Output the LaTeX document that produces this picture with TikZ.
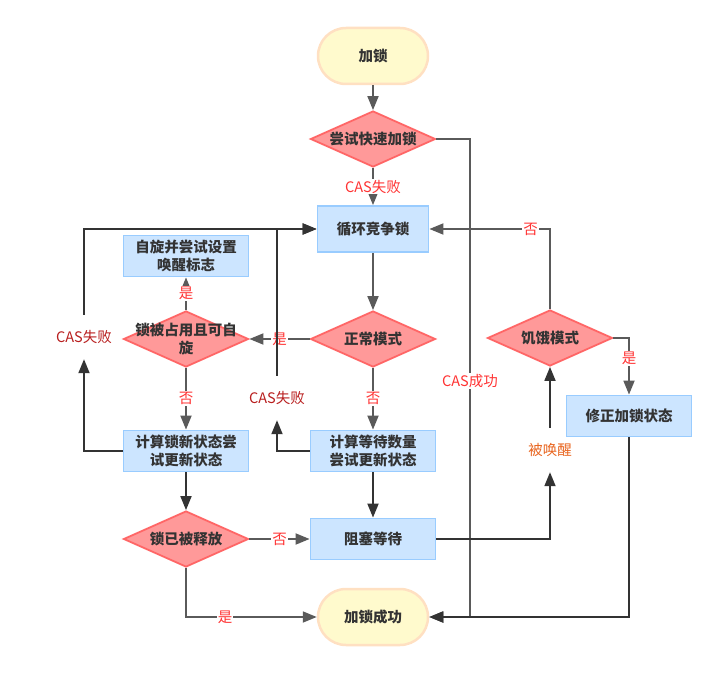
\documentclass[tikz,border=0pt]{standalone}
\usepackage{fontspec}
\setmainfont{Noto Sans CJK SC}
\usetikzlibrary{shapes.geometric,arrows.meta}
\definecolor{boxfill}{HTML}{CCE5FF}
\definecolor{boxline}{HTML}{99CCFF}
\definecolor{decfill}{HTML}{FF9999}
\definecolor{decline}{HTML}{FF6666}
\definecolor{termfill}{HTML}{FFFACD}
\definecolor{termline}{HTML}{FFE0C2}
\definecolor{lgray}{HTML}{5A5A5A}
\definecolor{ldark}{HTML}{333333}
\definecolor{lblred}{HTML}{FF3333}
\definecolor{casred}{HTML}{B81E1E}
\definecolor{wakeorg}{HTML}{E8641E}
\begin{document}
\begin{tikzpicture}[x=1pt,y=-1pt,
  every node/.style={font=\fontsize{14.5}{18}\selectfont,text=ldark},
  term/.style={rectangle,rounded corners=28pt,draw=termline,fill=termfill,line width=2.5pt,
    minimum width=110pt,minimum height=56pt,font=\fontsize{14.5}{18}\selectfont\bfseries},
  proc/.style={rectangle,draw=boxline,fill=boxfill,line width=1.8pt,align=center,
    minimum width=125pt,minimum height=41pt,inner sep=1pt,font=\fontsize{14.5}{18}\selectfont\bfseries},
  decision/.style={diamond,draw=decline,fill=decfill,line width=1.8pt,align=center,aspect=2.2,
    minimum width=125pt,minimum height=56pt,inner sep=0pt,font=\fontsize{14.5}{18}\selectfont\bfseries},
  lbl/.style={fill=white,text=lblred,inner sep=1pt},
  side/.style={text=casred,minimum height=44pt,inner sep=0pt},
  garr/.style={draw=lgray,line width=1.8pt,-{Triangle[length=14pt,width=11pt]}},
  darr/.style={draw=ldark,line width=1.8pt,-{Triangle[length=14pt,width=11pt]}}]
\useasboundingbox (0,0) rectangle (720,674);
\node[term] (start) at (373,56) {加锁};
\node[decision] (fast) at (373,139) {尝试快速加锁};
\node[proc,minimum width=111pt,minimum height=46pt] (loop) at (373,229) {循环竞争锁};
\node[decision] (normal) at (373,339) {正常模式};
\node[decision,inner xsep=-7pt,inner ysep=-8pt] (occ) at (186,339) {锁被占用且可自\\旋};
\node[proc] (spin) at (186,256) {自旋并尝试设置\\唤醒标志};
\node[proc] (calcA) at (186,451) {计算锁新状态尝\\试更新状态};
\node[decision] (released) at (186,539) {锁已被释放};
\node[proc] (calcB) at (373,451) {计算等待数量\\尝试更新状态};
\node[proc] (block) at (373,539) {阻塞等待};
\node[term] (succ) at (373,617) {加锁成功};
\node[decision] (starve) at (550,338) {饥饿模式};
\node[proc] (fix) at (629,416) {修正加锁状态};
\node[side] (cas1) at (84,337) {CAS失败};
\node[side] (cas2) at (277,398) {CAS失败};
\node[side,text=wakeorg] (woken) at (550,450) {被唤醒};
\draw[garr] (start) -- (fast);
\draw[garr] (fast) -- node[lbl]{CAS失败} (loop);
\draw[garr] (fast.east) -| (470,381) node[lbl]{CAS成功} |- (succ.east);
\draw[garr] (loop) -- (normal);
\draw[garr] (normal) -- node[lbl]{是} (occ);
\draw[garr] (occ) -- node[lbl]{是} (spin);
\draw[garr] (occ) -- node[lbl]{否} (calcA);
\draw[darr] (calcA.west) -| (cas1.south);
\draw[darr] (cas1.north) |- (loop.west);
\draw[darr] (calcB.west) -| (cas2.south);
\draw[darr] (cas2.north) |- (loop.west);
\draw[garr] (normal) -- node[lbl]{否} (calcB);
\draw[darr] (calcB) -- (block);
\draw[darr] (calcA) -- (released);
\draw[garr] (released) -- node[lbl]{否} (block);
\draw[garr] (released.south) |- node[lbl,pos=0.65]{是} (succ.west);
\draw[darr] (block.east) -| (woken.south);
\draw[darr] (woken.north) -- (starve.south);
\draw[garr] (starve.north) |- node[lbl,pos=0.58]{否} (loop.east);
\draw[garr] (starve.east) -| node[lbl,pos=0.68]{是} (fix.north);
\draw[darr] (fix.south) |- (succ.east);
\end{tikzpicture}
\end{document}
